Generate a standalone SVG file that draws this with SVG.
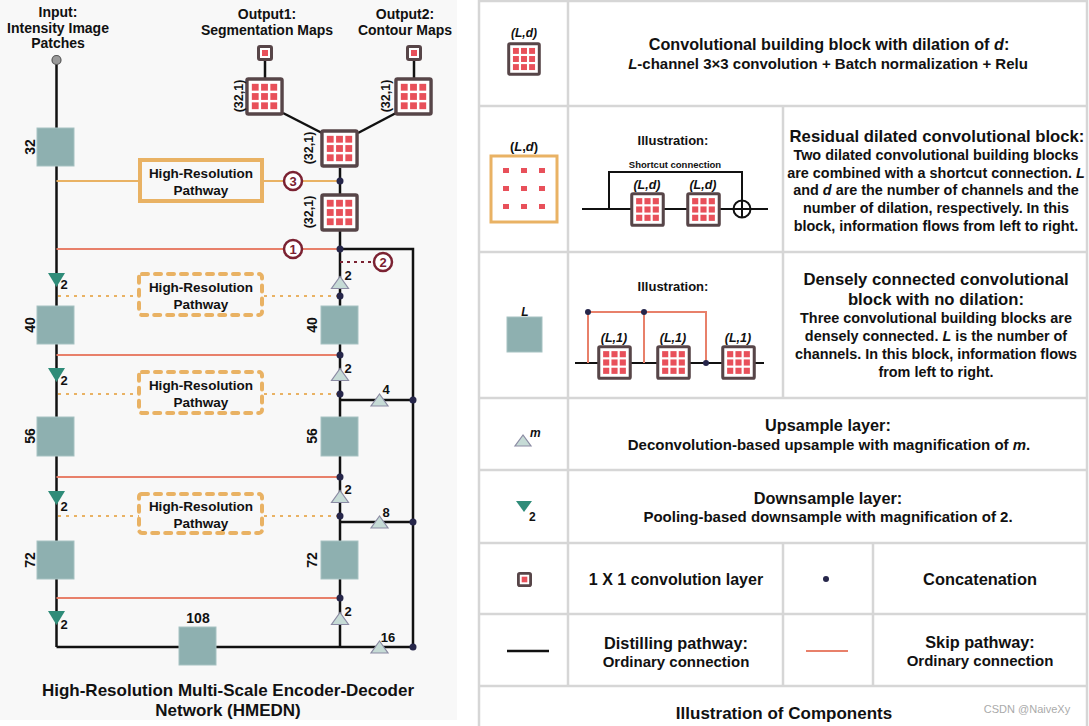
<svg xmlns="http://www.w3.org/2000/svg" xmlns:xlink="http://www.w3.org/1999/xlink" width="1089" height="726" viewBox="0 0 1089 726">
<style>
text{font-family:"Liberation Sans",Arial,Helvetica,sans-serif;font-weight:bold;fill:#111}
.c{text-anchor:middle}
.it{font-style:italic}
.blk{stroke:#111;stroke-width:2.5;fill:none}
.skip{stroke:#e8806a;stroke-width:2;fill:none}
.hr{stroke:#e9b264;stroke-width:2;fill:none}
.hrdot{stroke:#e9b264;stroke-width:2;fill:none;stroke-dasharray:3 5}
.hrbox{stroke:#e9b264;stroke-width:4;fill:#f8f8f8}
.hrdash{stroke:#e9b264;stroke-width:4;fill:#f8f8f8;stroke-dasharray:6 7;stroke-linecap:round}
.teal{fill:#8eb0b0;stroke:#a6c2c2;stroke-width:1}
.dot{fill:#26264a}
.down{fill:#2f8c79}
.up{fill:#c6dbd6;stroke:#8b8ba3;stroke-width:1.2}
.num{fill:#fff;stroke:#7b2232;stroke-width:2.5}
.numt{fill:#7b2232;font-size:13px;text-anchor:middle}
.grid{stroke:#d6d6d6;stroke-width:2.5;fill:none}
.s13{font-size:13px}
.s14{font-size:14px}
.body{font-size:14.4px}
.head{font-size:16.3px}
.sub{font-size:15px}
</style>
<defs>
<symbol id="cb" viewBox="0 0 40 40">
<rect x="2" y="2" width="36" height="36" rx="1.5" fill="#fff" stroke="#574548" stroke-width="3.5"/>
<g fill="#e8505a">
<rect x="7" y="7" width="7" height="7"/><rect x="16.5" y="7" width="7" height="7"/><rect x="26" y="7" width="7" height="7"/>
<rect x="7" y="16.5" width="7" height="7"/><rect x="16.5" y="16.5" width="7" height="7"/><rect x="26" y="16.5" width="7" height="7"/>
<rect x="7" y="26" width="7" height="7"/><rect x="16.5" y="26" width="7" height="7"/><rect x="26" y="26" width="7" height="7"/>
</g>
</symbol>
<symbol id="c11" viewBox="0 0 16 16">
<rect x="1.5" y="1.5" width="13" height="13" rx="1.5" fill="#fff" stroke="#574548" stroke-width="3"/>
<rect x="5" y="5" width="6" height="6" fill="#e8505a"/>
</symbol>
</defs>

<rect x="0" y="0" width="1089" height="726" fill="#fff"/>
<rect x="0" y="0" width="457" height="720" fill="#f8f8f8"/>

<!-- connectors -->
<g id="connectors">
<line class="blk" x1="56.5" y1="64" x2="56.5" y2="647"/>
<line class="blk" x1="340" y1="168" x2="340" y2="647"/>
<line class="blk" x1="56.5" y1="647" x2="413" y2="647"/>
<polyline class="blk" points="340,249 413,249 413,647"/>
<line class="blk" x1="340" y1="400" x2="413" y2="400"/>
<line class="blk" x1="340" y1="522" x2="413" y2="522"/>
<line class="blk" x1="283" y1="113" x2="322" y2="133"/>
<line class="blk" x1="396" y1="113" x2="358" y2="133"/>
<line class="blk" x1="265" y1="61" x2="265" y2="78"/>
<line class="blk" x1="414" y1="61" x2="414" y2="78"/>
<line class="skip" x1="56.5" y1="249" x2="340" y2="249"/>
<line class="skip" x1="56.5" y1="355" x2="340" y2="355"/>
<line class="skip" x1="56.5" y1="477" x2="340" y2="477"/>
<line class="skip" x1="56.5" y1="598" x2="340" y2="598"/>
<line class="hr" x1="56.5" y1="181" x2="140" y2="181"/>
<line class="hr" x1="262" y1="181" x2="340" y2="181"/>
<line class="hrdot" x1="58" y1="296" x2="139" y2="296"/>
<line class="hrdot" x1="264" y1="296" x2="338" y2="296"/>
<line class="hrdot" x1="58" y1="394" x2="139" y2="394"/>
<line class="hrdot" x1="264" y1="394" x2="338" y2="394"/>
<line class="hrdot" x1="58" y1="516" x2="139" y2="516"/>
<line class="hrdot" x1="264" y1="516" x2="338" y2="516"/>
<line x1="340" y1="262" x2="373" y2="262" stroke="#7b2232" stroke-width="2" stroke-dasharray="3 4"/>
</g>

<!-- input -->
<g id="input">
<text class="c s14" x="58" y="17">Input:</text>
<text class="c s14" x="58" y="33">Intensity Image</text>
<text class="c s14" x="58" y="48">Patches</text>
<circle cx="56.5" cy="60" r="4.5" fill="#9a9a9a" stroke="#555" stroke-width="1.2"/>
</g>

<!-- outputs -->
<g id="output1">
<text class="c s14" x="267" y="19">Output1:</text>
<text class="c s14" x="267" y="35">Segmentation Maps</text>
<use href="#c11" x="257" y="45" width="16" height="16"/>
</g>
<g id="output2">
<text class="c s14" x="405" y="19">Output2:</text>
<text class="c s14" x="405" y="35">Contour Maps</text>
<use href="#c11" x="406" y="45" width="16" height="16"/>
</g>

<!-- conv blocks -->
<g id="conv-out1"><use href="#cb" x="245" y="77" width="39" height="39"/><text class="c" font-size="12.5" transform="translate(242.5,96) rotate(-90)">(32,1)</text></g>
<g id="conv-out2"><use href="#cb" x="394" y="77" width="39" height="39"/><text class="c" font-size="12.5" transform="translate(389.5,96) rotate(-90)">(32,1)</text></g>
<g id="conv-mid"><use href="#cb" x="320" y="129" width="39" height="39"/><text class="c" font-size="12.5" transform="translate(313,148) rotate(-90)">(32,1)</text></g>
<g id="conv-low"><use href="#cb" x="320" y="193" width="39" height="39"/><text class="c" font-size="12.5" transform="translate(313,212) rotate(-90)">(32,1)</text></g>

<!-- encoder / decoder boxes -->
<g id="enc32"><rect class="teal" x="37" y="128" width="37" height="38"/><text class="c s14" transform="translate(35,147) rotate(-90)">32</text></g>
<g id="enc40"><rect class="teal" x="37" y="306" width="37" height="38"/><text class="c s14" transform="translate(35,325) rotate(-90)">40</text></g>
<g id="enc56"><rect class="teal" x="37" y="417" width="37" height="39"/><text class="c s14" transform="translate(35,436) rotate(-90)">56</text></g>
<g id="enc72"><rect class="teal" x="37" y="541" width="37" height="38"/><text class="c s14" transform="translate(35,560) rotate(-90)">72</text></g>
<g id="bottleneck"><rect class="teal" x="179" y="627" width="37" height="38"/><text class="c s14" x="198" y="623">108</text></g>
<g id="dec40"><rect class="teal" x="321" y="306" width="37" height="38"/><text class="c s14" transform="translate(317,325) rotate(-90)">40</text></g>
<g id="dec56"><rect class="teal" x="321" y="417" width="37" height="39"/><text class="c s14" transform="translate(317,436) rotate(-90)">56</text></g>
<g id="dec72"><rect class="teal" x="321" y="541" width="37" height="38"/><text class="c s14" transform="translate(317,560) rotate(-90)">72</text></g>

<!-- high resolution pathways -->
<g id="hrp1"><rect class="hrbox" x="140" y="160" width="122" height="41"/><text class="c" font-size="13.5" x="201" y="178">High-Resolution</text><text class="c" font-size="13.5" x="201" y="195">Pathway</text></g>
<g id="hrp2"><rect class="hrdash" x="139" y="274" width="123" height="41" rx="3"/><text class="c" font-size="13.5" x="201" y="292">High-Resolution</text><text class="c" font-size="13.5" x="201" y="309">Pathway</text></g>
<g id="hrp3"><rect class="hrdash" x="139" y="372" width="123" height="41" rx="3"/><text class="c" font-size="13.5" x="201" y="390">High-Resolution</text><text class="c" font-size="13.5" x="201" y="407">Pathway</text></g>
<g id="hrp4"><rect class="hrdash" x="139" y="494" width="123" height="39" rx="3"/><text class="c" font-size="13.5" x="201" y="511">High-Resolution</text><text class="c" font-size="13.5" x="201" y="528">Pathway</text></g>

<!-- downsample -->
<g id="down1"><polygon class="down" points="48,273 65,273 56.5,287"/><text class="c s13" x="64" y="289">2</text></g>
<g id="down2"><polygon class="down" points="48,368 65,368 56.5,382"/><text class="c s13" x="64" y="385">2</text></g>
<g id="down3"><polygon class="down" points="48,491 65,491 56.5,505"/><text class="c s13" x="64" y="511">2</text></g>
<g id="down4"><polygon class="down" points="48,611 65,611 56.5,625"/><text class="c s13" x="64" y="629">2</text></g>

<!-- upsample -->
<g id="up1"><polygon class="up" points="340,276.5 331.5,288.5 348.5,288.5"/><text class="c s13" x="348" y="280">2</text></g>
<g id="up2"><polygon class="up" points="340,368.5 331.5,380.5 348.5,380.5"/><text class="c s13" x="348" y="373">2</text></g>
<g id="up3"><polygon class="up" points="340,490.5 331.5,502.5 348.5,502.5"/><text class="c s13" x="348" y="494">2</text></g>
<g id="up4"><polygon class="up" points="340,612.5 331.5,624.5 348.5,624.5"/><text class="c s13" x="348" y="616">2</text></g>
<g id="up-x4"><polygon class="up" points="379.5,394 371,406 388,406"/><text class="c s13" x="386" y="394">4</text></g>
<g id="up-x8"><polygon class="up" points="379.5,516 371,528 388,528"/><text class="c s13" x="386" y="517">8</text></g>
<g id="up-x16"><polygon class="up" points="379.5,641 371,653 388,653"/><text class="c s13" x="388" y="642">16</text></g>

<!-- concatenation dots -->
<g id="concat">
<circle class="dot" cx="340" cy="181" r="3.5"/>
<circle class="dot" cx="340" cy="249" r="3.5"/>
<circle class="dot" cx="340" cy="296" r="3.5"/>
<circle class="dot" cx="340" cy="355" r="3.5"/>
<circle class="dot" cx="340" cy="394" r="3.5"/>
<circle class="dot" cx="340" cy="477" r="3.5"/>
<circle class="dot" cx="340" cy="516" r="3.5"/>
<circle class="dot" cx="340" cy="598" r="3.5"/>
<circle class="dot" cx="413" cy="400" r="3.5"/>
<circle class="dot" cx="413" cy="522" r="3.5"/>
<circle class="dot" cx="413" cy="647" r="3.5"/>
</g>

<!-- numbered markers -->
<g id="mark1"><circle class="num" cx="293" cy="249" r="9"/><text class="numt" x="293" y="254">1</text></g>
<g id="mark2"><circle class="num" cx="383" cy="262" r="9"/><text class="numt" x="383" y="267">2</text></g>
<g id="mark3"><circle class="num" cx="293" cy="181" r="9"/><text class="numt" x="293" y="186">3</text></g>

<g id="title">
<text class="c" font-size="17" x="228" y="696">High-Resolution Multi-Scale Encoder-Decoder</text>
<text class="c" font-size="17" x="228" y="716">Network (HMEDN)</text>
</g>

<!-- legend table -->
<g id="legend-grid">
<line class="grid" x1="479" y1="0" x2="479" y2="726"/>
<line class="grid" x1="568" y1="0" x2="568" y2="686"/>
<line class="grid" x1="1087" y1="0" x2="1087" y2="726"/>
<line class="grid" x1="783" y1="106" x2="783" y2="398"/>
<line class="grid" x1="783" y1="543" x2="783" y2="686"/>
<line class="grid" x1="873" y1="543" x2="873" y2="686"/>
<line class="grid" x1="479" y1="1" x2="1087" y2="1"/>
<line class="grid" x1="479" y1="106" x2="1087" y2="106"/>
<line class="grid" x1="479" y1="252" x2="1087" y2="252"/>
<line class="grid" x1="479" y1="398" x2="1087" y2="398"/>
<line class="grid" x1="479" y1="470" x2="1087" y2="470"/>
<line class="grid" x1="479" y1="543" x2="1087" y2="543"/>
<line class="grid" x1="479" y1="614" x2="1087" y2="614"/>
<line class="grid" x1="479" y1="686" x2="1087" y2="686"/>
</g>

<g id="legend-conv">
<text class="c it" font-size="12" x="524" y="37">(L,d)</text>
<use href="#cb" x="507" y="42" width="34" height="34"/>
<text class="c" font-size="16.2" x="829" y="50">Convolutional building block with dilation of <tspan class="it">d</tspan>:</text>
<text class="c sub" x="828" y="69"><tspan class="it">L</tspan>-channel 3×3 convolution + Batch normalization + Relu</text>
</g>

<g id="legend-residual">
<text class="c" font-size="13" x="524" y="151">(<tspan class="it">L</tspan>,<tspan class="it">d</tspan>)</text>
<rect x="491" y="156" width="66" height="66" fill="#fff" stroke="#e9b264" stroke-width="3"/>
<g fill="#e8505a">
<rect x="503" y="168" width="6" height="5"/><rect x="521" y="168" width="6" height="5"/><rect x="539" y="168" width="6" height="5"/>
<rect x="503" y="186" width="6" height="5"/><rect x="521" y="186" width="6" height="5"/><rect x="539" y="186" width="6" height="5"/>
<rect x="503" y="204" width="6" height="5"/><rect x="521" y="204" width="6" height="5"/><rect x="539" y="204" width="6" height="5"/>
</g>
<text class="c" font-size="13" x="673" y="145">Illustration:</text>
<text class="c" font-size="9.5" x="675" y="168">Shortcut connection</text>
<line x1="582" y1="209" x2="768" y2="209" stroke="#111" stroke-width="2"/>
<polyline points="609,209 609,172 742,172 742,201" fill="none" stroke="#111" stroke-width="2"/>
<use href="#cb" x="630" y="192" width="35" height="35"/>
<use href="#cb" x="686" y="192" width="35" height="35"/>
<text class="c it" font-size="12.5" x="647" y="189">(L,d)</text>
<text class="c it" font-size="12.5" x="703" y="189">(L,d)</text>
<circle cx="742" cy="209" r="8.5" fill="#fff" stroke="#111" stroke-width="2"/>
<line x1="733.5" y1="209" x2="750.5" y2="209" stroke="#111" stroke-width="2"/>
<line x1="742" y1="200.5" x2="742" y2="217.5" stroke="#111" stroke-width="2"/>
<text class="c" font-size="16.7" x="937" y="142">Residual dilated convolutional block:</text>
<text class="c body" x="936" y="160">Two dilated convolutional building blocks</text>
<text class="c body" x="936" y="178">are combined with a shortcut connection. <tspan class="it">L</tspan></text>
<text class="c body" x="936" y="195">and <tspan class="it">d</tspan> are the number of channels and the</text>
<text class="c body" x="936" y="213">number of dilation, respectively. In this</text>
<text class="c body" x="936" y="231">block, information flows from left to right.</text>
</g>

<g id="legend-dense">
<text class="c it" font-size="12" x="525" y="316">L</text>
<rect class="teal" x="507" y="317" width="35" height="35"/>
<text class="c" font-size="13" x="673" y="291">Illustration:</text>
<line x1="575" y1="363" x2="764" y2="363" stroke="#111" stroke-width="2"/>
<polyline points="588,363 588,312 706,312 706,363" class="skip"/>
<line class="skip" x1="644" y1="312" x2="644" y2="363"/>
<use href="#cb" x="597" y="345" width="35" height="35"/>
<use href="#cb" x="656" y="345" width="35" height="35"/>
<use href="#cb" x="721" y="345" width="35" height="35"/>
<circle class="dot" cx="588" cy="312" r="3"/>
<circle class="dot" cx="644" cy="312" r="3"/>
<circle class="dot" cx="706" cy="363" r="3"/>
<text class="c it" font-size="12.5" x="614" y="342">(L,1)</text>
<text class="c it" font-size="12.5" x="673" y="342">(L,1)</text>
<text class="c it" font-size="12.5" x="738" y="342">(L,1)</text>
<text class="c" font-size="16.7" x="936" y="285">Densely connected convolutional</text>
<text class="c" font-size="16.7" x="936" y="305">block with no dilation:</text>
<text class="c body" x="936" y="323">Three convolutional building blocks are</text>
<text class="c body" x="936" y="341">densely connected. <tspan class="it">L</tspan> is the number of</text>
<text class="c body" x="936" y="359">channels. In this block, information flows</text>
<text class="c body" x="936" y="377">from left to right.</text>
</g>

<g id="legend-up">
<polygon class="up" points="523,435 515,446 531,446"/>
<text class="it" font-size="12" x="530" y="437">m</text>
<text class="c head" x="828" y="431">Upsample layer:</text>
<text class="c sub" x="829" y="450">Deconvolution-based upsample with magnification of <tspan class="it">m</tspan>.</text>
</g>

<g id="legend-down">
<polygon class="down" points="516,501 532,501 524,512"/>
<text font-size="12" x="529" y="521">2</text>
<text class="c head" x="828" y="504">Downsample layer:</text>
<text class="c sub" x="828" y="522">Pooling-based downsample with magnification of 2.</text>
</g>

<g id="legend-1x1">
<use href="#c11" x="517" y="572" width="15" height="15"/>
<text class="c" font-size="16" x="676" y="585">1 X 1 convolution layer</text>
</g>
<g id="legend-concat">
<circle class="dot" cx="826" cy="579" r="3"/>
<text class="c" font-size="16.4" x="980" y="585">Concatenation</text>
</g>
<g id="legend-distill">
<line x1="507" y1="651" x2="549" y2="651" stroke="#111" stroke-width="2.5"/>
<text class="c head" x="676" y="649">Distilling pathway:</text>
<text class="c" font-size="15" x="676" y="667">Ordinary connection</text>
</g>
<g id="legend-skip">
<line x1="806" y1="651" x2="848" y2="651" stroke="#e8806a" stroke-width="2"/>
<text class="c head" x="980" y="648">Skip pathway:</text>
<text class="c" font-size="15" x="980" y="666">Ordinary connection</text>
</g>
<g id="legend-title">
<text class="c" font-size="17" x="784" y="719">Illustration of Components</text>
</g>
<text x="1027" y="713" text-anchor="middle" font-size="11" style="font-weight:normal;fill:#aaaaaa">CSDN @NaiveXy</text>
</svg>
